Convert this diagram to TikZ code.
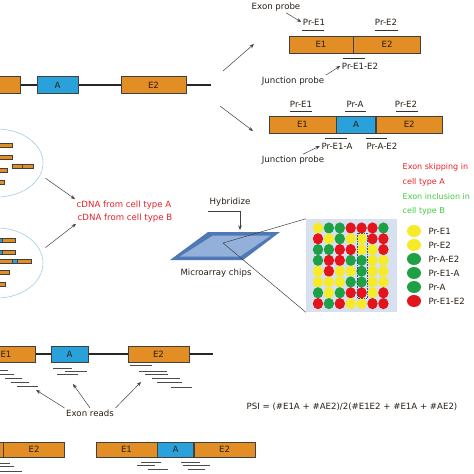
\documentclass[tikz,border=0pt]{standalone}
\usepackage{fontspec}
\setmainfont{DejaVu Sans}
\usepackage{tikz}
\usetikzlibrary{arrows.meta,positioning,calc,shapes.geometric}
\definecolor{exonorange}{RGB}{226,142,36}
\definecolor{altblue}{RGB}{41,161,219}
\definecolor{txtred}{RGB}{232,30,40}
\definecolor{txtgreen}{RGB}{60,205,60}
\definecolor{dotY}{RGB}{245,235,40}
\definecolor{dotG}{RGB}{30,160,70}
\definecolor{dotR}{RGB}{228,20,28}
\definecolor{gridbg}{RGB}{214,224,238}
\definecolor{cellblue}{RGB}{160,205,225}
\definecolor{chipdark}{RGB}{79,121,180}
\definecolor{chiplight}{RGB}{147,176,218}
\definecolor{darktext}{RGB}{40,30,20}

\tikzset{
  lbl/.style={font=\fontsize{8.6}{10}\selectfont,inner sep=1.5pt,text=darktext},
  exon/.style={draw=black!75,line width=0.6pt,fill=exonorange,minimum height=17pt,
               inner sep=0pt,font=\fontsize{8.6}{10}\selectfont,text=darktext},
  altex/.style={exon,fill=altblue},
  gline/.style={line width=1.4pt,black!85},
  probe/.style={line width=0.8pt,black!80},
  readln/.style={line width=0.7pt,black!70},
  arr/.style={-{Stealth[length=4.5pt,width=3.5pt]},black!75,line width=0.5pt},
  mini/.style={draw=black!75,line width=0.4pt},
}

\begin{document}
\begin{tikzpicture}[x=1pt,y=-1pt]
\path[use as bounding box] (0,0) rectangle (474,474);
\clip (0,0) rectangle (474,474);

% genomic region (top)
\draw[gline] (0,85) -- (211,85);
\node[exon,minimum width=40pt] (gE1) at (0,85) {};
\node[altex,minimum width=41pt] (gA) at (57.5,85) {A};
\node[exon,minimum width=65pt] (gE2) at (153.5,85) {E2};
\coordinate (toSkipS) at (223,71);  \coordinate (toSkipE) at (254,44);
\coordinate (toInclS) at (220,106); \coordinate (toInclE) at (253,131);
\draw[arr] (toSkipS) -- (toSkipE);
\draw[arr] (toInclS) -- (toInclE);

% skipping isoform with probes
\node[exon,minimum width=64pt] (sE1) at (321,44.5) {E1};
\node[exon,minimum width=67pt,right=0pt of sE1] (sE2) {E2};
\node[lbl] (exprobe) at (276,7) {Exon probe};
\node[lbl] (pE1) at (314,22) {Pr-E1};
\node[lbl] (pE2) at (386,22) {Pr-E2};
\draw[probe] (302,30) -- (324,30);
\draw[probe] (375,30) -- (398,30);
\draw[arr] (exprobe.-30) -- (pE1.west);
\draw[probe] (343,58) -- (365,58);
\node[lbl] (pE1E2) at (360,66) {Pr-E1-E2};
\node[lbl] (jp1) at (293,81) {Junction probe};
\draw[arr] (jp1.north east) -- (pE1E2.west);

% inclusion isoform with probes
\node[exon,minimum width=67pt] (iE1) at (302.5,124.5) {E1};
\node[altex,minimum width=39pt,right=0pt of iE1] (iA) {A};
\node[exon,minimum width=66pt,right=0pt of iA] (iE2) {E2};
\node[lbl] (qE1) at (301,104) {Pr-E1};
\node[lbl] (qA) at (355,104) {Pr-A};
\node[lbl] (qE2) at (406,104) {Pr-E2};
\draw[probe] (290,111) -- (312,111);
\draw[probe] (345,111) -- (366,111);
\draw[probe] (396,111) -- (418,111);
\draw[probe] (325,138) -- (347,138);
\draw[probe] (366,138) -- (387,138);
\node[lbl] (pE1A) at (337,146) {Pr-E1-A};
\node[lbl] (pAE2) at (382,146) {Pr-A-E2};
\node[lbl] (jp2) at (293,160) {Junction probe};
\draw[arr] (jp2.30) -- (pE1A.west);

% cells and cDNA
\node[ellipse,draw=cellblue,line width=0.6pt,minimum width=92pt,minimum height=68pt,inner sep=0pt] (cellA) at (-3,163) {};
\node[ellipse,draw=cellblue,line width=0.6pt,minimum width=92pt,minimum height=70pt,inner sep=0pt] (cellB) at (-3,263) {};
\foreach \a/\b/\y in {-5/12/145,-5/12/157,12/22/166.5,22/33/166.5,-5/7/170,-5/4/182}
  \draw[mini,fill=exonorange] (\a,{\y-2}) rectangle (\b,{\y+2});
\foreach \a/\b/\c/\y in {-5/2/altblue/240,2/15/exonorange/240,-5/2/altblue/252,2/15/exonorange/252,
                         -5/12/exonorange/261,12/17/altblue/261,17/31/exonorange/261,
                         -5/9/exonorange/272,-5/5/exonorange/284}
  \draw[mini,fill=\c] (\a,{\y-2}) rectangle (\b,{\y+2});
\node[lbl,text=txtred] (cdnaA) at (124,205) {cDNA from cell type A};
\node[lbl,text=txtred] (cdnaB) at (125,218) {cDNA from cell type B};
\draw[arr,shorten <=6pt] (cellA.-15) -- (cdnaA.north west);
\draw[arr,shorten <=6pt] (cellB.15) -- (cdnaB.south west);

% microarray chip
\fill[chipdark] (208,232) -- (280,232) -- (243,260) -- (170,260) -- cycle;
\fill[chiplight] (213,235.5) -- (271,235.5) -- (240,256.5) -- (180,256.5) -- cycle;
\node[lbl] (hyb) at (230,202) {Hybridize};
\coordinate (chipIn) at (240,230);
\draw[arr] ([yshift=-3pt]hyb.south west) -| (chipIn);
\node[lbl] (chips) at (216,273) {Microarray chips};

% zoomed array
\node[fill=gridbg,minimum width=91pt,minimum height=93pt,inner sep=0pt] (grid) at (351.5,265.5) {};
\coordinate (zoomPt) at (223,243);
\draw[black!75,line width=0.5pt] (grid.north west) -- (zoomPt) -- (grid.south west);
\foreach \row [count=\r] in {{Y,G,G,R,R,R,G},{R,Y,G,Y,Y,R,R},{G,G,R,R,Y,Y,R},{G,R,R,G,G,Y,Y},
                             {Y,R,Y,Y,G,Y,Y},{Y,Y,Y,G,G,Y,Y},{G,Y,G,R,R,Y,R},{R,G,R,Y,Y,R,R}}
  \foreach \c [count=\k] in \row
    \fill[dot\c] ({318+(\k-1)*10.9},{228+(\r-1)*10.8}) ellipse [x radius=5.2pt,y radius=5.6pt];
\draw[densely dotted,draw=chipdark!70!black,line width=0.6pt] (357,233) rectangle (367,298);

% legend
\node[lbl,font=\fontsize{8}{9.6}\selectfont,text=txtred,anchor=west] (skipA) at (401,167) {Exon skipping in};
\node[lbl,font=\fontsize{8}{9.6}\selectfont,text=txtred,anchor=west] (skipB) at (401,182) {cell type A};
\node[lbl,font=\fontsize{8}{9.6}\selectfont,text=txtgreen,anchor=west] (inclA) at (401,197) {Exon inclusion in};
\node[lbl,font=\fontsize{8}{9.6}\selectfont,text=txtgreen,anchor=west] (inclB) at (401,211) {cell type B};
\foreach \c/\t [count=\i] in {Y/Pr-E1,Y/Pr-E2,G/Pr-A-E2,G/Pr-E1-A,G/Pr-A,R/Pr-E1-E2}{
  \fill[dot\c] (414,{231+(\i-1)*14}) ellipse [x radius=7pt,y radius=6pt];
  \node[lbl,anchor=west] (leg\i) at (427,{231+(\i-1)*14}) {\t};
}

% RNA-seq reads (bottom)
\draw[gline] (0,354) -- (213,354);
\node[exon,minimum width=58pt,minimum height=16pt] (rE1) at (6,354) {E1};
\node[altex,minimum width=37pt,minimum height=16pt] (rA) at (69.5,354) {A};
\node[exon,minimum width=61pt,minimum height=16pt] (rE2) at (158.5,354) {E2};
\foreach \a/\b/\y in {0/8/370,0/14/374,5/22/378,11/29/382,17/38/386,
                      53/72/368,65/87/371,57/78/374.5,
                      130/152/365,139/167/371,145/168/374.5,152/180/378,157/182/382,171/192/387}
  \draw[readln] (\a,\y) -- (\b,\y);
\node[lbl] (reads) at (90,413) {Exon reads};
\coordinate (rdE1) at (36,390); \coordinate (rdA) at (73,384); \coordinate (rdE2) at (141,382);
\draw[arr] (reads.north west) -- (rdE1);
\draw[arr] (reads.north) -- (rdA);
\draw[arr] (reads.north east) -- (rdE2);
\node[lbl] (psi) at (352,407) {PSI = (\#E1A + \#AE2)/2(\#E1E2 + \#E1A + \#AE2)};

\node[exon,minimum width=63pt,minimum height=15pt] (jE1) at (-28.5,449.5) {};
\node[exon,minimum width=61pt,minimum height=15pt,right=0pt of jE1] (jE2) {E2};
\node[exon,minimum width=61pt,minimum height=15pt] (kE1) at (126.5,449.5) {E1};
\node[altex,minimum width=36pt,minimum height=15pt,right=0pt of kE1] (kA) {A};
\node[exon,minimum width=61pt,minimum height=15pt,right=0pt of kA] (kE2) {E2};
\foreach \a/\b/\y in {0/10/463,0/14/466.5,0/22/471,
                      141/161/462,137/155/465.5,148/168/469,
                      181/200/462,183/210/465.5,188/205/469}
  \draw[readln] (\a,\y) -- (\b,\y);
\end{tikzpicture}
\end{document}
